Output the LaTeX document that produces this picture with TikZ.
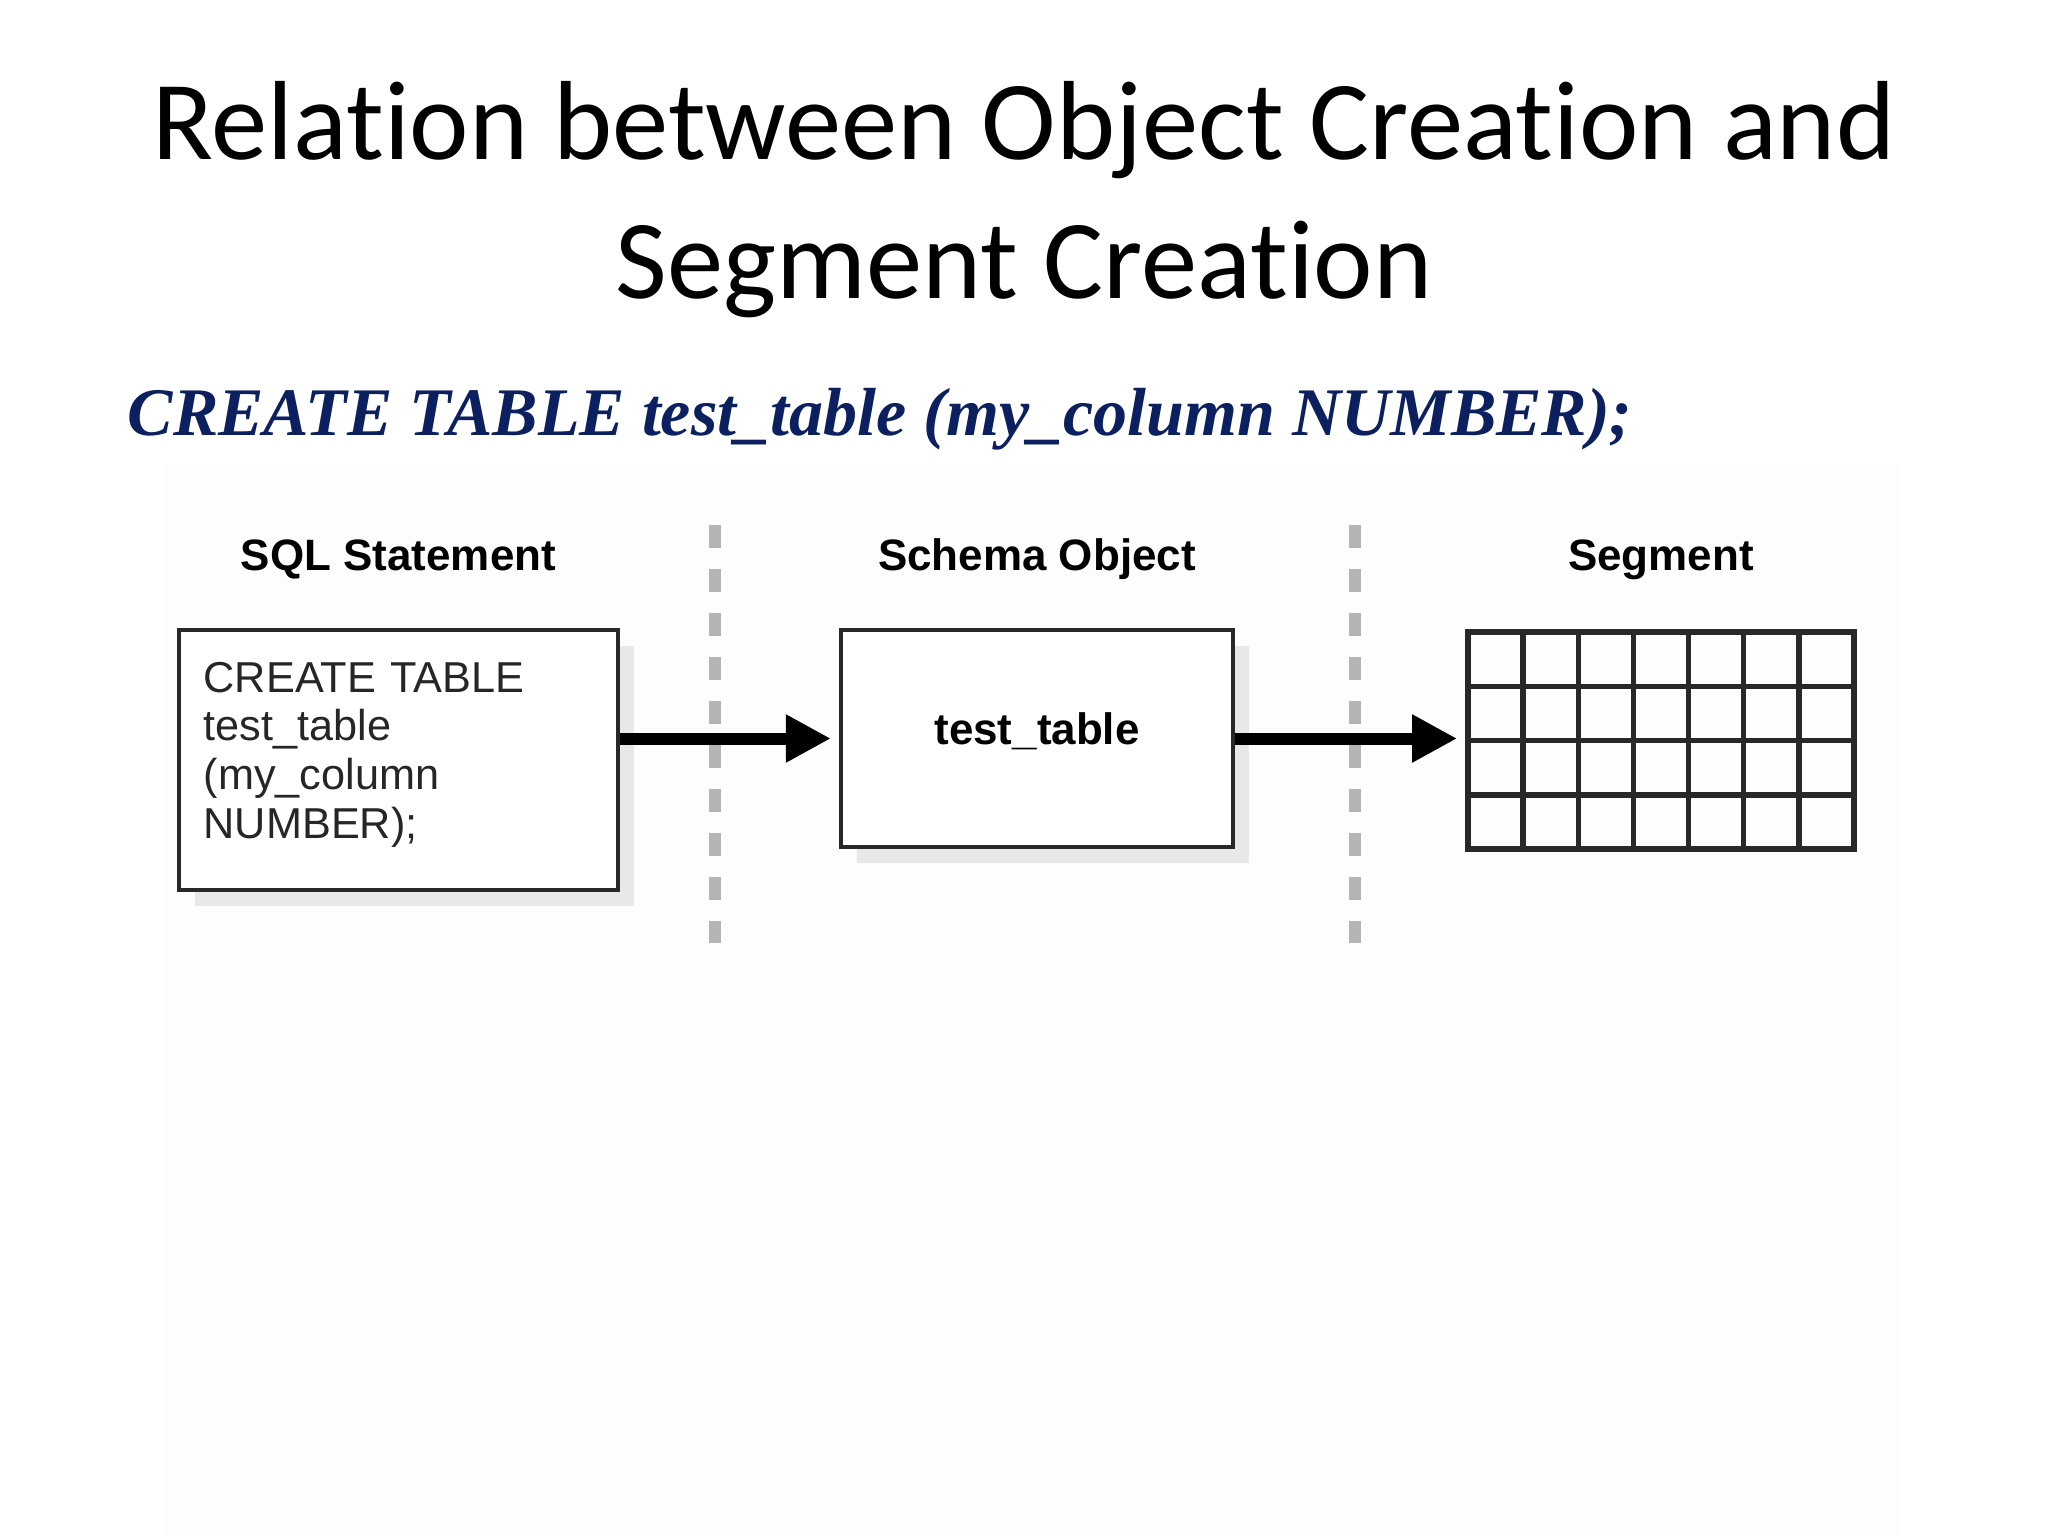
\documentclass[tikz,border=0pt]{standalone}
\usepackage{fontspec}
\setmainfont{Carlito}[Ligatures=NoCommon]
\newfontfamily\diagfont{Liberation Sans}
\newfontfamily\codefont{Liberation Serif}
\usetikzlibrary{arrows.meta,shadows}
\definecolor{sqlblue}{RGB}{12,32,96}
\definecolor{sepgray}{RGB}{180,180,180}
\definecolor{shadegray}{RGB}{232,232,232}
\definecolor{boxline}{RGB}{40,40,40}
\begin{document}
\begin{tikzpicture}[x=0.01cm, y=-0.01cm,
    titletext/.style={font=\fontsize{32}{38}\selectfont, anchor=base, inner sep=0pt},
    headtext/.style={font=\diagfont\bfseries\fontsize{12.5}{15}\selectfont, anchor=base, inner sep=0pt},
    boxtext/.style={font=\diagfont\fontsize{12.3}{13.85}\selectfont, text=black!85, anchor=base west, align=left, text width=4cm, inner sep=0pt},
    shadowbox/.style={draw=boxline, line width=0.045cm, fill=white, inner sep=0pt,
        general shadow={shadow xshift=0.16cm, shadow yshift=-0.16cm, fill=shadegray}},
    gridline/.style={boxline, line width=0.055cm},
    sepline/.style={sepgray, line width=0.12cm, dash pattern=on 0.23cm off 0.21cm},
    flow/.style={-{Triangle[length=0.45cm, width=0.45cm]}, line width=0.12cm, shorten >=0.08cm}
]
    \useasboundingbox (0,0) rectangle (2048,1536);
    \fill[gray!1.5] (163,464) rectangle (1900,1536);

    % title and statement
    \node[titletext] (title) at (1024,159) {Relation between Object Creation and};
    \node[titletext] (titlecont) at (1024,298) {Segment Creation};
    \node[font=\codefont\bfseries\itshape\fontsize{19.35}{23}\selectfont, text=sqlblue, anchor=base west, inner sep=0pt]
        (sqlline) at (127,435) {CREATE TABLE test\_table (my\_column NUMBER);};

    % separators
    \draw[sepline] (715,525) -- (715,943);
    \draw[sepline] (1355,525) -- (1355,943);

    % column heads
    \node[headtext] (stmthead) at (398.5,570) {SQL Statement};
    \node[headtext] (objhead) at (1037,570) {Schema Object};
    \node[headtext] (seghead) at (1661,570) {Segment};

    % boxes
    \node[shadowbox, minimum width=4.385cm, minimum height=2.595cm] (stmt) at (398.5,760) {};
    \node[boxtext] (stmttext) at (203,692) {CREATE TABLE\\test\_table\\(my\_column\\NUMBER);};
    \node[shadowbox, minimum width=3.915cm, minimum height=2.165cm] (obj) at (1037,738.5) {};
    \node[headtext] (objtext) at (1037,744) {test\_table};

    % segment grid
    \node[draw=boxline, line width=0.055cm, minimum width=3.86cm, minimum height=2.17cm, inner sep=0pt] (seg) at (1661,740.5) {};
    \foreach \i in {1,...,6}
        \draw[gridline] (1468+\i*55.143,632) -- (1468+\i*55.143,849);
    \foreach \j in {1,2,3}
        \draw[gridline] (1468,632+\j*54.25) -- (1854,632+\j*54.25);

    \draw[flow] (stmt.east |- obj.west) -- (obj.west);
    \draw[flow] (obj.east) -- (obj.east -| seg.west);
\end{tikzpicture}
\end{document}
